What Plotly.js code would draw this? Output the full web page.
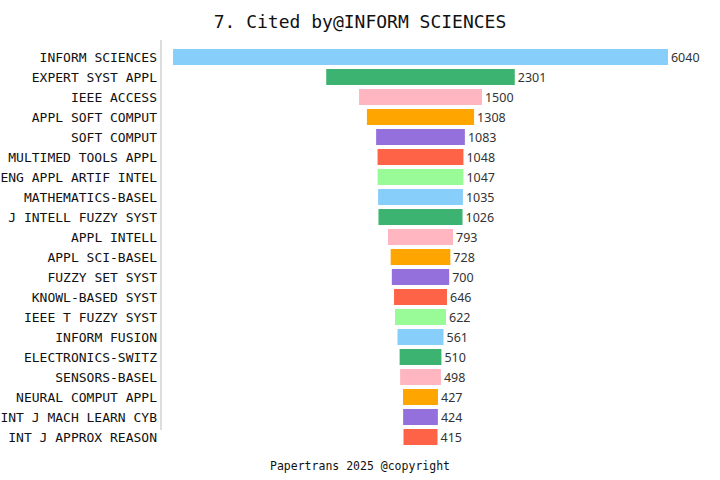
<!DOCTYPE html>
<html>
<head>
<meta charset="utf-8">
<script src="https://cdn.plot.ly/plotly-3.0.1.min.js"></script>
<style>html,body{margin:0;padding:0;background:#fff;}#chart{width:720px;height:480px;}</style>
</head>
<body>
<div id="chart"></div>
<script>
const journals = ["INFORM SCIENCES","EXPERT SYST APPL","IEEE ACCESS","APPL SOFT COMPUT","SOFT COMPUT","MULTIMED TOOLS APPL","ENG APPL ARTIF INTEL","MATHEMATICS-BASEL","J INTELL FUZZY SYST","APPL INTELL","APPL SCI-BASEL","FUZZY SET SYST","KNOWL-BASED SYST","IEEE T FUZZY SYST","INFORM FUSION","ELECTRONICS-SWITZ","SENSORS-BASEL","NEURAL COMPUT APPL","INT J MACH LEARN CYB","INT J APPROX REASON"];
const citations = [6040,2301,1500,1308,1083,1048,1047,1035,1026,793,728,700,646,622,561,510,498,427,424,415];
const palette = ["#87CEFA","#3CB371","#FFB6C1","#FFA500","#9370DB","#FF6347","#98FB98"];
const titleText = "7. Cited by@INFORM SCIENCES";
const footerText = "Papertrans 2025 @copyright";

const colors = citations.map((v,i)=>palette[i%palette.length]);
const trace = {
  type:'bar', orientation:'h',
  y: journals, x: citations,
  base: citations.map(v=>-v/2),
  marker:{color:colors},
  text: citations.map(String),
  textposition:'outside',
  constraintext:'none',
  cliponaxis:false,
  textfont:{family:'"Noto Sans", sans-serif', size:12.5, color:'#333'},
  hoverinfo:'none'
};
const mono = '"DejaVu Sans Mono", "Liberation Mono", monospace';
const layout = {
  width:720, height:480,
  margin:{l:161, r:40, t:47, b:33},
  paper_bgcolor:'#fff', plot_bgcolor:'#fff',
  bargap:0.2,
  showlegend:false,
  title:{text:titleText, x:0.5, xref:'container', y:1-22/480, yref:'container', yanchor:'middle',
    font:{family:mono, size:18, color:'#111'}},
  xaxis:{range:[-3167,3167], visible:false, fixedrange:true},
  yaxis:{autorange:'reversed', showline:false, showgrid:false, zeroline:false, ticks:'',
    ticklabelstandoff:3,
    tickfont:{family:mono, size:13, color:'#111'}},
  shapes:[{type:'line', xref:'paper', yref:'paper', x0:0, x1:0, y0:(447-430)/400, y1:(447-40)/400,
    line:{color:'#dddddd', width:2}}],
  annotations:[{text:footerText, xref:'paper', yref:'paper', x:(360-161)/519, y:(447-466)/400,
    xanchor:'center', yanchor:'middle', showarrow:false,
    font:{family:mono, size:11.5, color:'#111'}}]
};
Plotly.newPlot('chart',[trace],layout,{displayModeBar:false, staticPlot:true});
</script>
</body>
</html>
